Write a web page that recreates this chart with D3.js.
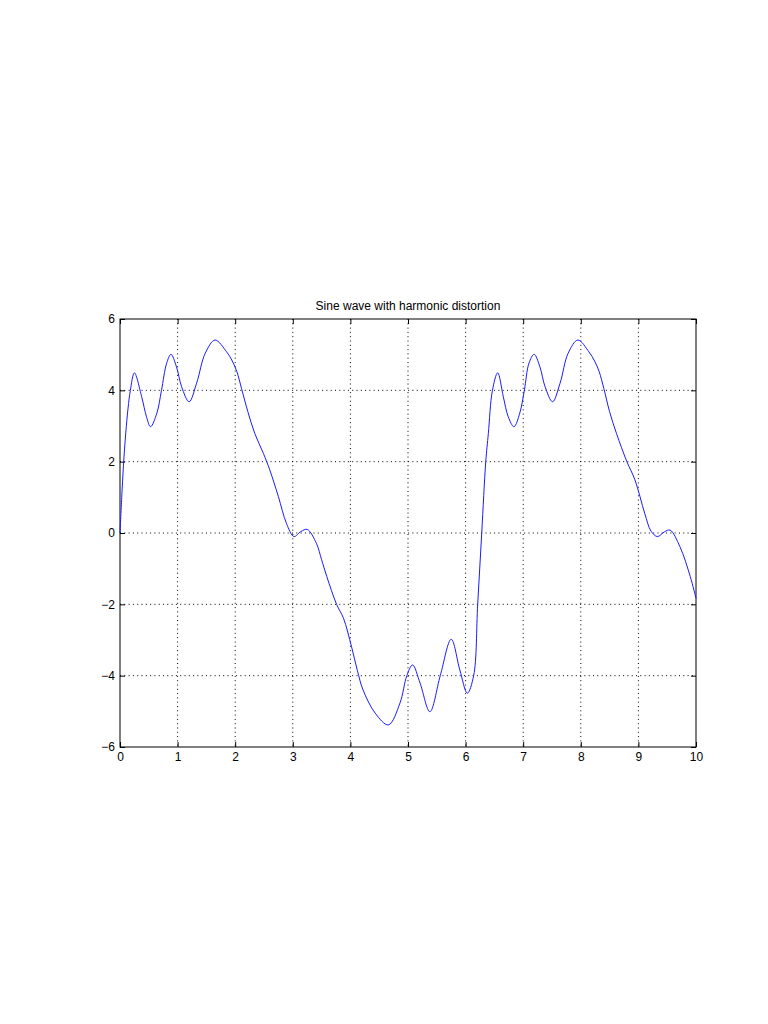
<html>
<head>
  <meta charset="utf-8">
  <title>Sine wave with harmonic distortion</title>
  <script src="https://cdn.jsdelivr.net/npm/d3@7"></script>
  <style>
    body { margin: 0; background: #fff; }
    text { font-family: "Liberation Sans", Arial, sans-serif; }
  </style>
</head>
<body>
<div id="chart"></div>
<script>
// values
var tValues = [0.00, 0.03, 0.06, 0.10, 0.14, 0.18, 0.25, 0.376, 0.46, 0.53, 0.64, 0.72, 0.81, 0.885,
  0.98, 1.07, 1.20, 1.33, 1.48, 1.65, 1.85, 1.95, 2.03, 2.11, 2.22, 2.34, 2.49, 2.60, 2.75,
  2.89, 3.02, 3.14, 3.25, 3.41, 3.50, 3.59, 3.76, 3.88, 4.02, 4.12, 4.22, 4.43, 4.66, 4.86, 4.98,
  5.08, 5.21, 5.38, 5.56, 5.75, 5.90, 6.03, 6.14, 6.21, 6.28, 6.35, 6.395, 6.465, 6.557, 6.655, 6.74,
  6.84, 6.94, 7.02, 7.10, 7.19, 7.29, 7.38, 7.51, 7.64, 7.78, 7.95, 8.14, 8.24, 8.32, 8.40, 8.50,
  8.62, 8.80, 8.94, 9.11, 9.22, 9.33, 9.45, 9.55, 9.72, 9.90, 10.0];
var yValues = [0, 1.0, 1.9, 2.8, 3.5, 4.0, 4.49, 3.82, 3.26, 2.98, 3.36, 4.0, 4.76, 5.01,
  4.66, 4.1, 3.68, 4.2, 5.04, 5.41, 5.08, 4.82, 4.52, 4.05, 3.4, 2.79, 2.23, 1.77, 1.02,
  0.27, -0.10, 0.04, 0.10, -0.29, -0.75, -1.22, -2.0, -2.39, -3.19, -3.85, -4.4, -5.05, -5.38, -4.77, -4.0,
  -3.70, -4.21, -5.01, -4.0, -2.98, -3.84, -4.49, -4.0, -2.0, 0, 2.0, 2.79, 3.99, 4.49, 3.82, 3.26,
  2.98, 3.36, 4.0, 4.76, 5.01, 4.66, 4.1, 3.68, 4.2, 5.04, 5.41, 5.08, 4.82, 4.52, 4.05, 3.4,
  2.79, 2.0, 1.49, 0.55, 0.05, -0.10, 0.03, 0.08, -0.38, -1.22, -1.83];
var xTicks = [0, 1, 2, 3, 4, 5, 6, 7, 8, 9, 10];
var yTicks = [-6, -4, -2, 0, 2, 4, 6];
var title = "Sine wave with harmonic distortion";

var width = 768, height = 1024;
var margin = {top: 319, right: 72, bottom: 277, left: 120};
var w = width - margin.left - margin.right,
    h = height - margin.top - margin.bottom;

var svg = d3.select("#chart")
  .append("svg")
    .attr("width", width)
    .attr("height", height);

svg.append("rect").attr("width", width).attr("height", height).attr("fill", "#fff");

var g = svg.append("g")
    .attr("transform", "translate(" + margin.left + "," + margin.top + ")");

var x = d3.scaleLinear().domain([0, 10]).range([0, w]);
var y = d3.scaleLinear().domain([-6, 6]).range([h, 0]);

// dotted grid
g.append("g").selectAll("line").data(xTicks.slice(1, -1)).enter().append("line")
  .attr("x1", function(d) { return x(d); }).attr("x2", function(d) { return x(d); })
  .attr("y1", 0).attr("y2", h)
  .attr("stroke", "#000").attr("stroke-width", 1).attr("stroke-dasharray", "1,3.3");
g.append("g").selectAll("line").data(yTicks.slice(1, -1)).enter().append("line")
  .attr("x1", 0).attr("x2", w)
  .attr("y1", function(d) { return y(d); }).attr("y2", function(d) { return y(d); })
  .attr("stroke", "#000").attr("stroke-width", 1).attr("stroke-dasharray", "1,3.3");

function fmt(d) { return d < 0 ? "\u2212" + Math.abs(d) : String(d); }

// axes, ticks pointing inward like MATLAB
g.append("g").attr("transform", "translate(0," + h + ")")
  .call(d3.axisBottom(x).tickValues(xTicks).tickFormat(fmt).tickSizeInner(-5).tickSizeOuter(0).tickPadding(5));
g.append("g")
  .call(d3.axisLeft(y).tickValues(yTicks).tickFormat(fmt).tickSizeInner(-5).tickSizeOuter(0).tickPadding(5));
g.append("g")
  .call(d3.axisTop(x).tickValues(xTicks).tickFormat("").tickSizeInner(-5).tickSizeOuter(0));
g.append("g").attr("transform", "translate(" + w + ",0)")
  .call(d3.axisRight(y).tickValues(yTicks).tickFormat("").tickSizeInner(-5).tickSizeOuter(0));

g.selectAll(".tick text").attr("font-size", 12).attr("fill", "#000")
  .style("font-family", "'Liberation Sans', Arial, sans-serif");
g.selectAll(".domain").remove();

g.append("rect").attr("width", w).attr("height", h)
  .attr("fill", "none").attr("stroke", "#000").attr("stroke-width", 1);

// curve
var points = tValues.map(function(t, i) { return [t, yValues[i]]; });
var line = d3.line()
  .x(function(d) { return x(d[0]); })
  .y(function(d) { return y(d[1]); })
  .curve(d3.curveCatmullRom.alpha(0.5));

g.append("path")
  .datum(points)
  .attr("d", line)
  .attr("fill", "none")
  .attr("stroke", "#1a1aff")
  .attr("stroke-width", 1);

// title
g.append("text")
  .attr("x", w / 2)
  .attr("y", -9)
  .attr("text-anchor", "middle")
  .attr("font-size", 12)
  .text(title);
</script>
</body>
</html>
